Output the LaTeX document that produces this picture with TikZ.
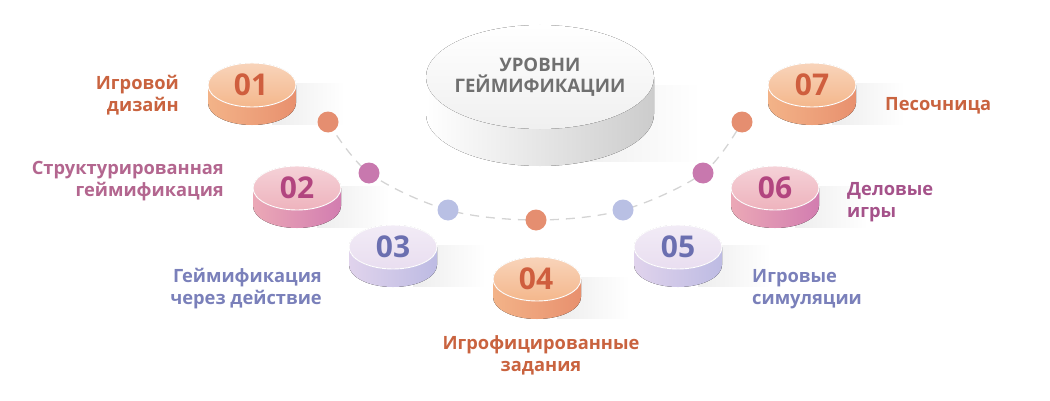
\documentclass[tikz,border=0pt]{standalone}
\usepackage{fontspec}
\setmainfont{Open Sans}
\usetikzlibrary{fadings}
\definecolor{orTopB}{HTML}{F4B78C}
\definecolor{orSideL}{HTML}{F3B388}
\definecolor{orSideR}{HTML}{E8906E}
\definecolor{orNum}{HTML}{CF5E3E}
\definecolor{pkTopB}{HTML}{EEB3BD}
\definecolor{pkSideL}{HTML}{EBA8B6}
\definecolor{pkSideR}{HTML}{D27DB0}
\definecolor{pkNum}{HTML}{B2457F}
\definecolor{lvTopB}{HTML}{E9DEF0}
\definecolor{lvSideL}{HTML}{E0D3EC}
\definecolor{lvSideR}{HTML}{BDBBE3}
\definecolor{lvNum}{HTML}{6B6FB0}
\definecolor{dotOr}{HTML}{E58E70}
\definecolor{dotPk}{HTML}{C878AE}
\definecolor{dotLv}{HTML}{B9C0E4}
\definecolor{lblOr}{HTML}{C9633F}
\definecolor{lblPk}{HTML}{B3668F}
\definecolor{lblPkB}{HTML}{A5528A}
\definecolor{lblLv}{HTML}{7A80BA}
\definecolor{titleGray}{HTML}{707070}
\definecolor{dashGray}{HTML}{D4D4D4}
\newcommand\pshadow[2]{%
  \fill[black!7, path fading=east] (#1+20,#2-40) rectangle (#1+92,#2+2);
}
\newcommand\puck[5]{%
  \fill[left color=#4, right color=#5] (#1-44,#2) -- (#1-44,#2-18)
     arc[start angle=180,end angle=360,x radius=44,y radius=22] -- (#1+44,#2) -- cycle;
  \fill[top color=#3!60!white, bottom color=#3] (#1,#2) ellipse[x radius=44,y radius=22];
  \draw[white, line width=0.9pt] (#1,#2) ellipse[x radius=44,y radius=22];
}
\tikzset{
  numtxt/.style={font=\bfseries\fontsize{30}{32}\selectfont},
  lbl/.style={font=\bfseries\fontsize{18.3}{22}\selectfont, inner sep=0pt},
  dotn/.style={circle, minimum size=21pt, inner sep=0pt},
  arcline/.style={dashGray, line width=1.3pt, dash pattern=on 9pt off 7pt}
}
\begin{document}
\begin{tikzpicture}[x=1pt,y=1pt]
\useasboundingbox (0,0) rectangle (1050,400);
% shadows
\fill[black!7, path fading=east] (560,238) rectangle (700,315);
\pshadow{252}{315}
\pshadow{812}{315}
\pshadow{297}{212}
\pshadow{775}{212}
\pshadow{393}{153}
\pshadow{678}{153}
\pshadow{537}{121}
% big disc
\fill[left color=white, right color=black!20] (426,323) -- (426,286)
   arc[start angle=180,end angle=360,x radius=114,y radius=52] -- (654,323) -- cycle;
\fill[top color=white, bottom color=black!6] (540,323) ellipse[x radius=114,y radius=52];
\node[font=\bfseries\fontsize{18.6}{21}\selectfont, text=titleGray, align=center] (title) at (540,323) {УРОВНИ\\ГЕЙМИФИКАЦИИ};
% dots and arc
\node[dotn] (d1) at (328,278) {};
\node[dotn] (d2) at (369,227) {};
\node[dotn] (d3) at (448,190) {};
\node[dotn] (d4) at (536,180) {};
\node[dotn] (d5) at (623,190) {};
\node[dotn] (d6) at (703,227) {};
\node[dotn] (d7) at (742,278) {};
\draw[arcline] plot[smooth, tension=0.55] coordinates {(d1.center) (d2.center) (d3.center) (d4.center) (d5.center) (d6.center) (d7.center)};
\fill[dotOr] (d1) circle[radius=10.5];
\fill[dotPk] (d2) circle[radius=10.5];
\fill[dotLv] (d3) circle[radius=10.5];
\fill[dotOr] (d4) circle[radius=10.5];
\fill[dotLv] (d5) circle[radius=10.5];
\fill[dotPk] (d6) circle[radius=10.5];
\fill[dotOr] (d7) circle[radius=10.5];
% pucks
\puck{252}{315}{orTopB}{orSideL}{orSideR}
\node[numtxt, text=orNum] (n1) at (251,315) {01};
\puck{812}{315}{orTopB}{orSideL}{orSideR}
\node[numtxt, text=orNum] (n7) at (812,315) {07};
\puck{297}{212}{pkTopB}{pkSideL}{pkSideR}
\node[numtxt, text=pkNum] (n2) at (297,212) {02};
\puck{775}{212}{pkTopB}{pkSideL}{pkSideR}
\node[numtxt, text=pkNum] (n6) at (775,212) {06};
\puck{393}{153}{lvTopB}{lvSideL}{lvSideR}
\node[numtxt, text=lvNum] (n3) at (393,153) {03};
\puck{678}{153}{lvTopB}{lvSideL}{lvSideR}
\node[numtxt, text=lvNum] (n5) at (678,153) {05};
\puck{537}{121}{orTopB}{orSideL}{orSideR}
\node[numtxt, text=orNum] (n4) at (536,121) {04};
% labels
\node[lbl, text=lblOr, align=right, anchor=east] (l1) at (179,305) {Игровой\\дизайн};
\node[lbl, text=lblPk, align=right, anchor=east] (l2) at (224,219) {Структурированная\\геймификация};
\node[lbl, text=lblLv, align=right, anchor=east] (l3) at (322,111) {Геймификация\\через действие};
\node[lbl, text=lblOr, align=center] (l4) at (541,45) {Игрофицированные\\задания};
\node[lbl, text=lblLv, align=left, anchor=west] (l5) at (752,111) {Игровые\\симуляции};
\node[lbl, text=lblPkB, align=left, anchor=west] (l6) at (847,198) {Деловые\\игры};
\node[lbl, text=lblOr, align=left, anchor=west] (l7) at (885,294) {Песочница};
\end{tikzpicture}
\end{document}
